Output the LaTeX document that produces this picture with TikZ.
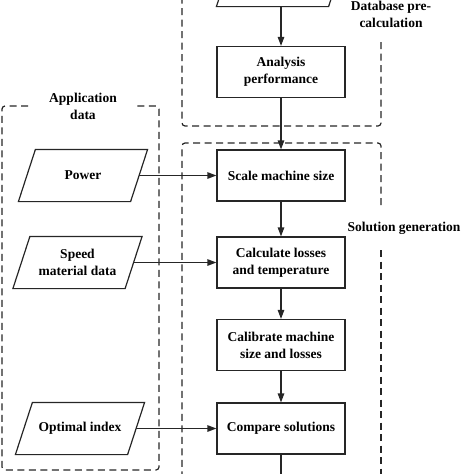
\documentclass[tikz,border=0pt]{standalone}
\usepackage{fontspec}
\setmainfont{Liberation Serif}
\usetikzlibrary{arrows.meta}

% slanted outline round a data node
\newcommand\dataoutline[1]{%
  \draw ([xshift=-8.5pt]#1.south west) -- ([xshift=8.5pt]#1.north west)
    -- ([xshift=8.5pt]#1.north east) -- ([xshift=-8.5pt]#1.south east) -- cycle;}

\begin{document}
\begin{tikzpicture}[x=1pt, y=-1pt, line width=1.2pt, draw=black!85,
  font=\fontsize{13.5}{17}\selectfont\bfseries,
  proc/.style={draw, minimum width=128pt, minimum height=51pt, align=center, inner sep=0pt},
  data/.style={minimum width=111pt, minimum height=51pt, align=center, inner sep=0pt},
  group/.style={dash pattern=on 7pt off 4.5pt, line width=1.2pt, rounded corners=3pt},
  flow/.style={-{Triangle[length=9pt,width=6.5pt]}}]
\useasboundingbox (0,0) rectangle (474,474);
\clip (0,0) rectangle (474,474);
% main column
\node[data] (db) at (281,-19.5) {};
\node[proc] (ap) at (281,72) {Analysis\\performance};
\node[proc] (scale) at (281,175.5) {Scale machine size};
\node[proc] (calc) at (281,262.5) {Calculate losses\\and temperature};
\node[proc] (calib) at (281,345) {Calibrate machine\\size and losses};
\node[proc] (comp) at (281,428.5) {Compare solutions};
\coordinate (out) at (281,490);
% application data
\node[data] (power) at (83,175.5) {Power};
\node[data] (speed) at (77.5,262.5) {Speed\\material data};
\node[data] (optim) at (80,428.5) {Optimal index};
\dataoutline{db}
\dataoutline{power}
\dataoutline{speed}
\dataoutline{optim}
% groups
\draw[group] (28,106) -- (2,106) -- (2,470) -- (159,470) -- (159,106) -- (137,106);
\draw[group] (381,42) -- (381,126) -- (182,126) -- (182,-10);
\draw[group] (381,205) -- (381,143) -- (182,143) -- (182,490);
\draw[group] (381,250) -- (381,490);
\node[align=center] (applbl) at (83,106) {Application\\data};
\node[align=center] (dblbl) at (391,14.5) {Database pre-\\calculation};
\node (sollbl) at (404,228) {Solution generation};
% flow
\draw[flow] (db) -- (ap);
\draw[flow] (ap) -- (scale);
\draw[flow] (scale) -- (calc);
\draw[flow] (calc) -- (calib);
\draw[flow] (calib) -- (comp);
\draw (comp) -- (out);
\draw[flow] (power) -- (scale);
\draw[flow] (speed) -- (calc);
\draw[flow] (optim) -- (comp);
\end{tikzpicture}
\end{document}
